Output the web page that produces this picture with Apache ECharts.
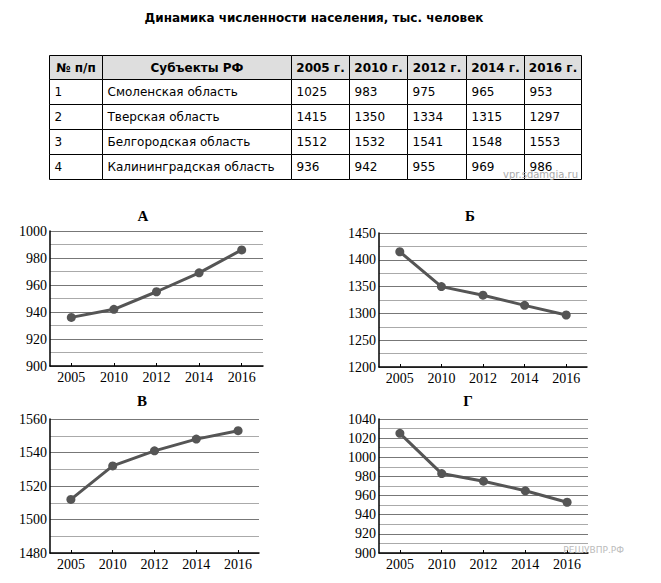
<!DOCTYPE html>
<html><head><meta charset="utf-8">
<script src="https://cdn.jsdelivr.net/npm/echarts@6/dist/echarts.min.js"></script>
<style>html,body{margin:0;padding:0;background:#fff}#c{width:661px;height:583px}</style>
</head><body><div id="c"></div>
<script>
// ---- data ----
const tableTitle = 'Динамика численности населения, тыс. человек';
const years = ['2005','2010','2012','2014','2016'];
const headerLabels = ['№ п/п','Субъекты РФ','2005 г.','2010 г.','2012 г.','2014 г.','2016 г.'];
const regionNums = ['1','2','3','4'];
const regions = ['Смоленская область','Тверская область','Белгородская область','Калининградская область'];
const smolensk = [1025,983,975,965,953];
const tver = [1415,1350,1334,1315,1297];
const belgorod = [1512,1532,1541,1548,1553];
const kaliningrad = [936,942,955,969,986];
const chartLetters = ['А','Б','В','Г'];
const watermark1 = 'vpr.sdamgia.ru';
const watermark2 = 'РЕШУВПР.РФ';

// ---- layout ----
const colEdges = [49,102,291,349,407,466,524,581];
const rowEdges = [55,79,104,129,154,179];
const tableRows = [smolensk, tver, belgorod, kaliningrad];

const graphic = [];
graphic.push({type:'text', x: 314, y: 18, style:{text: tableTitle, font:'bold 12px "DejaVu Sans"', fill:'#000', align:'center', verticalAlign:'middle'}});
for (let r = 0; r < rowEdges.length - 1; r++) {
  for (let c = 0; c < colEdges.length - 1; c++) {
    const x0 = colEdges[c] + 0.5, y0 = rowEdges[r] + 0.5;
    const w = colEdges[c+1] - colEdges[c], h = rowEdges[r+1] - rowEdges[r];
    graphic.push({type:'rect', shape:{x:x0, y:y0, width:w, height:h},
      style:{fill: r === 0 ? '#dedede' : '#fff', stroke:'#000', lineWidth:1}, silent:true});
    let txt;
    if (r === 0) txt = headerLabels[c];
    else if (c === 0) txt = regionNums[r-1];
    else if (c === 1) txt = regions[r-1];
    else txt = String(tableRows[r-1][c-2]);
    const cy = y0 + h/2;
    if (r === 0) {
      graphic.push({type:'text', x: x0 + w/2, y: cy, style:{text: txt, font:'bold 12px "DejaVu Sans"', fill:'#000', align:'center', verticalAlign:'middle'}, silent:true, z:10});
    } else {
      graphic.push({type:'text', x: x0 + 5, y: cy, style:{text: txt, font:'12px "DejaVu Sans"', fill:'#000', align:'left', verticalAlign:'middle'}, silent:true, z:10});
    }
  }
}
graphic.push({type:'text', x:578, y:174, style:{text: watermark1, font:'10px "DejaVu Sans"', fill:'#aaa', align:'right', verticalAlign:'middle'}, z:11});
graphic.push({type:'text', x:624, y:550, style:{text: watermark2, font:'9px "DejaVu Sans"', fill:'#bbb', align:'right', verticalAlign:'middle'}, z:11});

const charts = [
  {data: kaliningrad, min: 900, max: 1000, interval: 20, grid:{left:50, top:231, width:213, height:135}, tx:143, ty:216},
  {data: tver, min: 1200, max: 1450, interval: 50, grid:{left:379, top:233, width:208, height:134}, tx:470, ty:216},
  {data: belgorod, min: 1480, max: 1560, interval: 20, grid:{left:50, top:419, width:209, height:134}, tx:142, ty:401},
  {data: smolensk, min: 900, max: 1040, interval: 20, grid:{left:379, top:419, width:209, height:134}, tx:468, ty:401}
];

charts.forEach((ch, i) => {
  graphic.push({type:'text', x: ch.tx, y: ch.ty, style:{text: chartLetters[i], font:'bold 15px "Liberation Serif"', fill:'#000', align:'center', verticalAlign:'middle'}});
});

const serif = '"Liberation Serif", "Times New Roman", serif';
const option = {
  animation: false,
  backgroundColor: '#fff',
  graphic: graphic,
  grid: charts.map(ch => Object.assign({containLabel:false}, ch.grid)),
  xAxis: charts.map((ch, i) => ({
    type:'category', gridIndex:i, data: years, boundaryGap:true,
    axisLine:{show:true, lineStyle:{color:'#000', width:1.5}},
    axisTick:{show:true, inside:true, alignWithLabel:true, length:3, lineStyle:{color:'#000'}},
    axisLabel:{color:'#000', fontFamily: serif, fontSize:14, margin:4},
    splitLine:{show:false}
  })),
  yAxis: charts.map((ch, i) => ({
    type:'value', gridIndex:i, min: ch.min, max: ch.max, interval: ch.interval,
    axisLine:{show:true, lineStyle:{color:'#000', width:1.5}},
    axisTick:{show:false},
    axisLabel:{color:'#000', fontFamily: serif, fontSize:14, margin:3, formatter: v => String(v)},
    splitLine:{show:true, lineStyle:{color:'#777', width:1}},
    minorTick:{show:false, splitNumber:2},
    minorSplitLine:{show:true, lineStyle:{color:'#aaa', width:1}}
  })),
  series: charts.map((ch, i) => ({
    type:'line', xAxisIndex:i, yAxisIndex:i, data: ch.data,
    symbol:'circle', symbolSize:9,
    lineStyle:{color:'#555', width:3},
    itemStyle:{color:'#555'},
    z: 5
  }))
};

const chart = echarts.init(document.getElementById('c'), null, {renderer:'svg'});
chart.setOption(option);
</script>
</body></html>
